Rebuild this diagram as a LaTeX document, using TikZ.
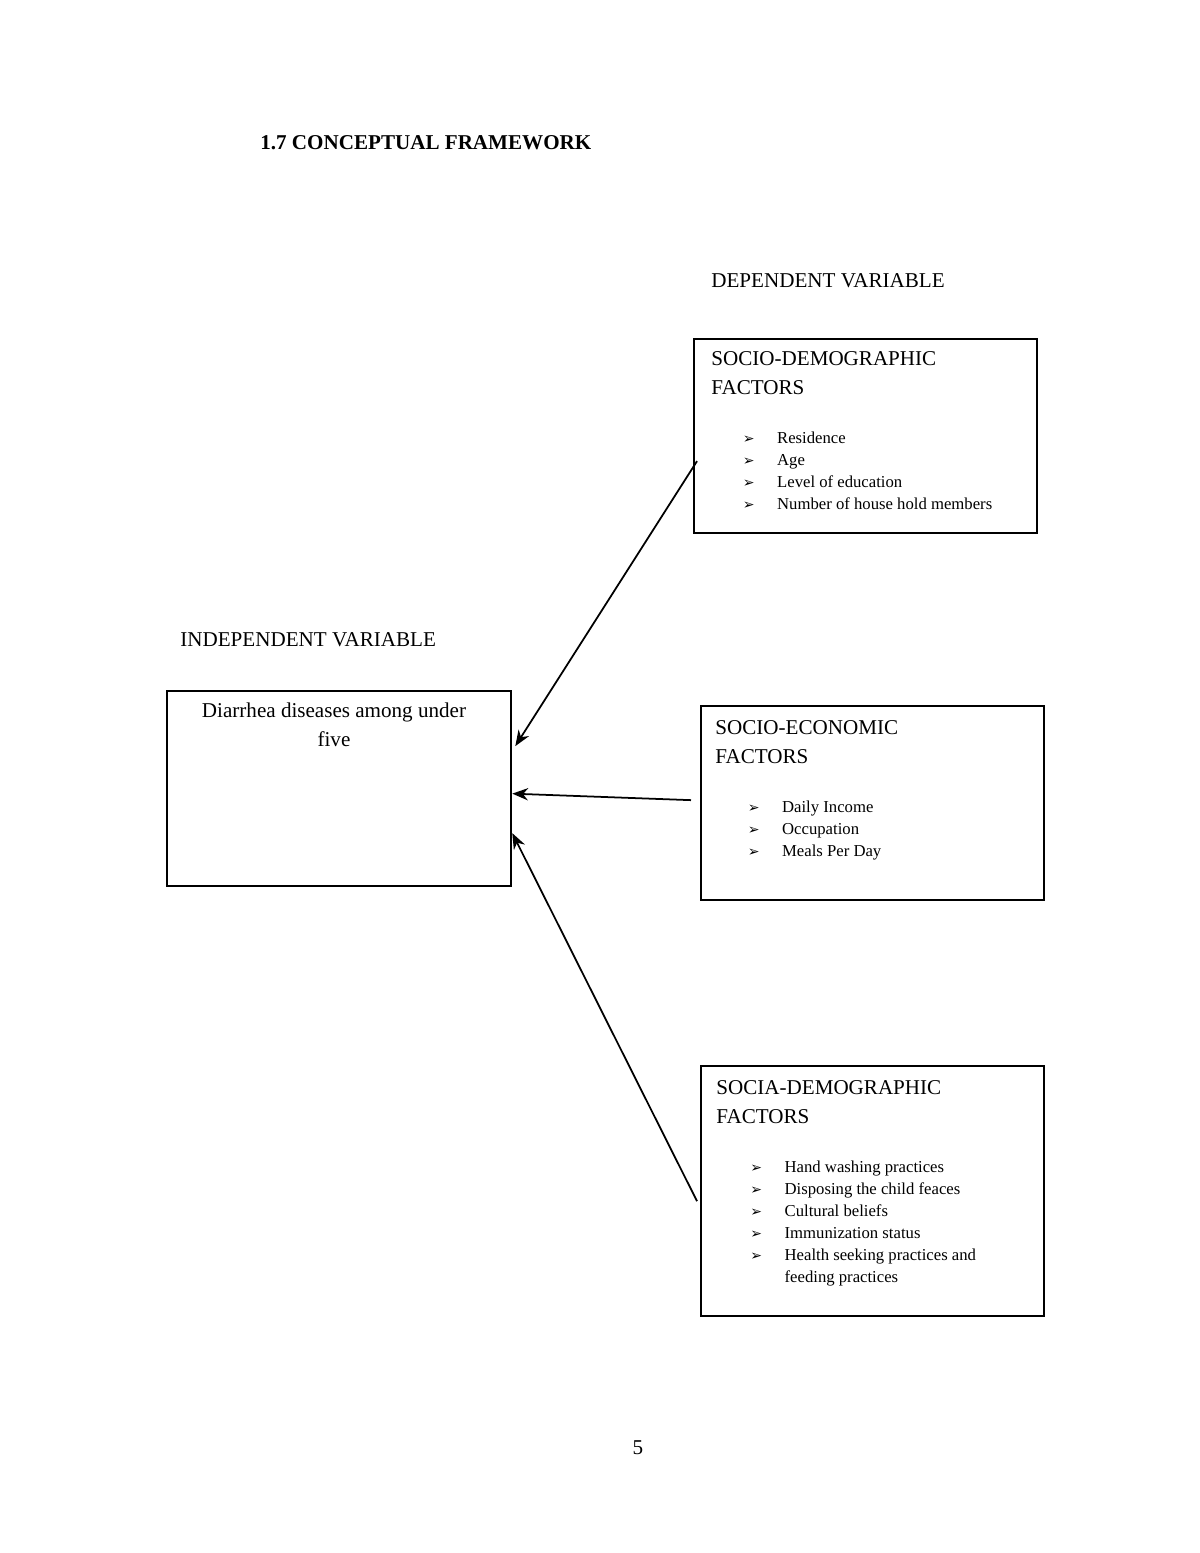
\documentclass[tikz,border=0pt]{standalone}
\usepackage{fontspec}
\setmainfont{Liberation Serif}
\newfontfamily\dingfont{DejaVu Sans}
\usetikzlibrary{arrows.meta,positioning}
\newcommand{\itm}{{\dingfont\fontsize{8}{10}\selectfont ➢}}
\tikzset{
    mybox/.style={rectangle,draw=black,line width=1.3pt,anchor=north west,inner sep=0pt},
    mylabel/.style={anchor=north west,inner sep=0pt,align=left,font=\fontsize{12}{16.5}\selectfont},
    myitems/.style={anchor=north west,inner sep=0pt,font=\fontsize{9.5}{12.5}\selectfont},
    myarrow/.style={-{Stealth[length=9pt,width=7pt]},line width=1pt}
}
\begin{document}
\begin{tikzpicture}
\useasboundingbox (0,0) rectangle (24,-31.06);
% headings
\node[anchor=west,inner sep=0pt,font=\bfseries\fontsize{12}{14}\selectfont] (title) at (5.2,-2.86) {1.7 CONCEPTUAL FRAMEWORK};
\node[anchor=west,inner sep=0pt,font=\fontsize{12}{14}\selectfont] (dep) at (14.22,-5.62) {DEPENDENT VARIABLE};
\node[anchor=west,inner sep=0pt,font=\fontsize{12}{14}\selectfont] (indep) at (3.6,-12.8) {INDEPENDENT VARIABLE};

% boxes
\node[mybox,minimum width=6.88cm,minimum height=3.9cm] (main) at (3.32,-13.8) {};
\node[mybox,minimum width=6.86cm,minimum height=3.88cm] (sdA) at (13.86,-6.76) {};
\node[mybox,minimum width=6.86cm,minimum height=3.88cm] (se) at (14,-14.1) {};
\node[mybox,minimum width=6.86cm,minimum height=5cm] (sdB) at (14,-21.3) {};

% box texts
\node[anchor=north,inner sep=0pt,align=center,font=\fontsize{12}{16.5}\selectfont] (maintxt) at (6.68,-14.05) {Diarrhea diseases among under\\five};

\node[mylabel] (sdAtitle) at (14.22,-7.02) {SOCIO-DEMOGRAPHIC\\FACTORS};
\node[myitems] (sdAitems) at (14.85,-8.55) {\begin{tabular}{@{}l@{\hspace{0.45cm}}l@{}}
\itm & Residence\\ \itm & Age\\ \itm & Level of education\\ \itm & Number of house hold members\end{tabular}};

\node[mylabel] (setitle) at (14.3,-14.4) {SOCIO-ECONOMIC\\FACTORS};
\node[myitems] (seitems) at (14.95,-15.93) {\begin{tabular}{@{}l@{\hspace{0.45cm}}l@{}}
\itm & Daily Income\\ \itm & Occupation\\ \itm & Meals Per Day\end{tabular}};

\node[mylabel] (sdBtitle) at (14.32,-21.6) {SOCIA-DEMOGRAPHIC\\FACTORS};
\node[myitems] (sdBitems) at (15,-23.14) {\begin{tabular}{@{}l@{\hspace{0.45cm}}l@{}}
\itm & Hand washing practices\\ \itm & Disposing the child feaces\\ \itm & Cultural beliefs\\ \itm & Immunization status\\ \itm & Health seeking practices and\\ & feeding practices\end{tabular}};

% connectors
\draw[myarrow] ([xshift=0.08cm,yshift=-0.5cm]sdA.west) -- ([xshift=0.06cm,yshift=0.85cm]main.east);
\draw[myarrow] ([xshift=-0.18cm,yshift=0.06cm]se.west) -- ([yshift=-0.1cm]main.east);
\draw[myarrow] ([xshift=-0.06cm,yshift=-0.2cm]sdB.west) -- ([yshift=-0.89cm]main.east);

\node[font=\fontsize{12}{14}\selectfont] (page) at (12.76,-28.96) {5};
\end{tikzpicture}
\end{document}
